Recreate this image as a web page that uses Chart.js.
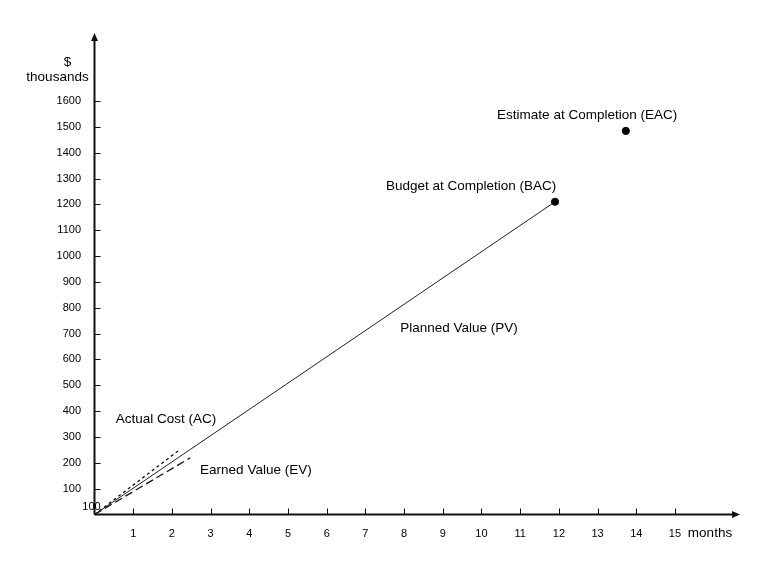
<!DOCTYPE html>
<html>
<head>
<meta charset="utf-8">
<script src="https://cdn.jsdelivr.net/npm/chart.js@4/dist/chart.umd.min.js"></script>
<style>
  html, body { margin:0; padding:0; background:#fff; }
  #wrap { width:784px; height:573px; position:relative; }
</style>
</head>
<body>
<div id="wrap"><canvas id="chart"></canvas></div>
<script>
// tick labels
const monthTicks = [1,2,3,4,5,6,7,8,9,10,11,12,13,14,15];
const dollarTicks = [100,200,300,400,500,600,700,800,900,1000,1100,1200,1300,1400,1500,1600];

// series (months, $ thousands)
const pvMonths = [0, 11.9];
const pvValues = [0, 1210];
const acMonths = [0, 2.16];
const acValues = [0, 246];
const evMonths = [0, 2.47];
const evValues = [0, 219];
const eacMonths = [13.73];
const eacValues = [1484];

// text notes, placed in data units
const notes = [
    {text:'Estimate at Completion (EAC)', x:12.73, y:1546},
    {text:'Budget at Completion (BAC)', x:9.73, y:1269},
    {text:'Planned Value (PV)', x:9.42, y:722},
    {text:'Actual Cost (AC)', x:1.85, y:370},
    {text:'Earned Value (EV)', x:4.17, y:172}
];

function pts(xs, ys){ return xs.map((x,i)=>({x:x, y:ys[i]})); }

const LABEL_FONT = '13.5px "Liberation Sans", Arial, sans-serif';

const axesPlugin = {
    id:'axes',
    afterDraw(chart){
        const ctx = chart.ctx, xs = chart.scales.x, ys = chart.scales.y;
        const ox = xs.getPixelForValue(0), oy = ys.getPixelForValue(0);
        const right = chart.chartArea.right, top = chart.chartArea.top;
        ctx.save();
        ctx.strokeStyle = '#111'; ctx.fillStyle = '#111';
        ctx.lineWidth = 2;
        ctx.beginPath();
        ctx.moveTo(ox, oy); ctx.lineTo(right-4, oy);
        ctx.moveTo(ox, oy); ctx.lineTo(ox, top+4);
        ctx.stroke();
        // arrow heads
        ctx.beginPath();
        ctx.moveTo(right, oy); ctx.lineTo(right-8, oy-3.5); ctx.lineTo(right-8, oy+3.5); ctx.closePath();
        ctx.moveTo(ox, top); ctx.lineTo(ox-3.5, top+8); ctx.lineTo(ox+3.5, top+8); ctx.closePath();
        ctx.fill();
        // tick marks inside the axes
        ctx.lineWidth = 1;
        ctx.beginPath();
        monthTicks.forEach(m=>{ const px = Math.round(xs.getPixelForValue(m))+0.5; ctx.moveTo(px, oy); ctx.lineTo(px, oy-6); });
        dollarTicks.forEach(v=>{ const py = Math.round(ys.getPixelForValue(v))+0.5; ctx.moveTo(ox, py); ctx.lineTo(ox+6, py); });
        ctx.stroke();

        ctx.fillStyle = '#000';
        ctx.font = LABEL_FONT;
        ctx.textAlign = 'center'; ctx.textBaseline = 'middle';
        notes.forEach(n=>{ ctx.fillText(n.text, xs.getPixelForValue(n.x), ys.getPixelForValue(n.y)); });
        ctx.fillText('$', ox-27, top+29);
        ctx.fillText('thousands', ox-37, top+44);
        ctx.fillText('months', right-30, oy+19);
        ctx.font = '11px "Liberation Sans", Arial, sans-serif';
        ctx.fillText('100', ox-3, oy-8);
        ctx.restore();
    }
};

const tickFont = {family:'"Liberation Sans", Arial, sans-serif', size:11};

new Chart(document.getElementById('chart').getContext('2d'), {
    type:'scatter',
    data:{
        datasets:[
            {label:'Planned Value (PV)', data:pts(pvMonths, pvValues), showLine:true,
             borderColor:'#222', borderWidth:1, pointRadius:[0,3.6],
             pointBackgroundColor:'#000', pointBorderColor:'#000'},
            {label:'Actual Cost (AC)', data:pts(acMonths, acValues), showLine:true,
             borderColor:'#111', borderWidth:1.3, borderDash:[3,3], pointRadius:0},
            {label:'Earned Value (EV)', data:pts(evMonths, evValues), showLine:true,
             borderColor:'#111', borderWidth:1.3, borderDash:[8,4], pointRadius:0},
            {label:'Estimate at Completion (EAC)', data:pts(eacMonths, eacValues),
             pointRadius:3.6, pointBackgroundColor:'#000', pointBorderColor:'#000'}
        ]
    },
    options:{
        responsive:true, maintainAspectRatio:false, animation:false,
        layout:{padding:{top:33, right:44, left:0, bottom:0}},
        plugins:{legend:{display:false}, tooltip:{enabled:false}},
        scales:{
            x:{
                type:'linear', min:0, max:16.68,
                grid:{display:false, drawTicks:false}, border:{display:false},
                afterBuildTicks:s=>{ s.ticks = monthTicks.map(v=>({value:v})); },
                afterFit:s=>{ s.height = 58.5; },
                ticks:{color:'#000', font:tickFont, padding:13, autoSkip:false, maxRotation:0,
                       callback:v=>String(v)}
            },
            y:{
                type:'linear', min:0, max:1863,
                grid:{display:false, drawTicks:false}, border:{display:false},
                afterBuildTicks:s=>{ s.ticks = dollarTicks.map(v=>({value:v})); },
                afterFit:s=>{ s.width = 94.5; },
                ticks:{color:'#000', font:tickFont, padding:13.5, autoSkip:false,
                       callback:v=>String(v)}
            }
        }
    },
    plugins:[axesPlugin]
});
</script>
</body>
</html>
